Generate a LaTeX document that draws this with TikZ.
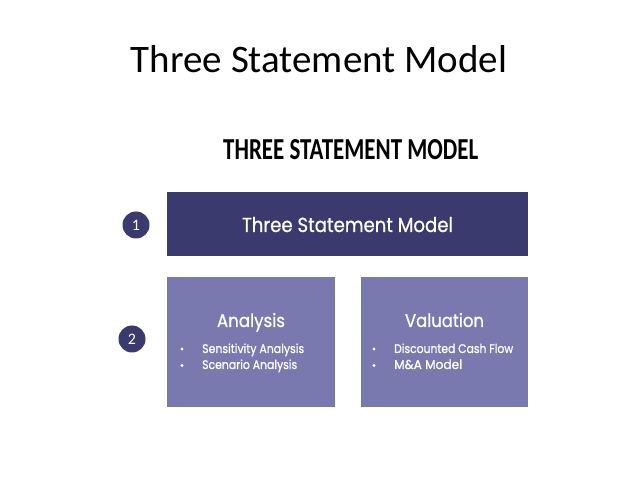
\documentclass[tikz,border=0pt]{standalone}
\usepackage{fontspec}
\setmainfont{Carlito}
\newfontfamily\boxfont{Poppins}[FakeBold=0.9]
\definecolor{navy}{RGB}{59,58,110}
\definecolor{lav}{RGB}{122,121,175}
\tikzset{
  panel/.style={fill=#1, draw=none, inner sep=0pt, anchor=north west},
  txt/.style={inner sep=0pt, text=white},
  dot/.style={circle, fill=white, inner sep=0pt, minimum size=3.2pt},
  num/.style={circle, fill=navy, text=white, inner sep=0pt, minimum size=27pt, font=\fontsize{16}{18}\selectfont},
}
\begin{document}
\begin{tikzpicture}[x=1pt,y=-1pt]
\useasboundingbox (0,0) rectangle (638,478);
\fill[white] (0,0) rectangle (638,478);
\node[inner sep=0pt, anchor=base] (title) at (319,73) {\resizebox{376pt}{!}{\fontsize{40}{48}\selectfont Three Statement Model}};
\node[inner sep=0pt, anchor=base west] (sub) at (223,160) {\resizebox{255pt}{20pt}{\bfseries THREE STATEMENT MODEL}};
\node[panel=navy, minimum width=361pt, minimum height=64pt] (top) at (167,192) {};
\node[panel=lav, minimum width=168pt, minimum height=130pt] (ana) at (167,277) {};
\node[panel=lav, minimum width=167pt, minimum height=130pt] (val) at (361,277) {};
\node[txt, anchor=base] (toptxt) at (347.5,232) {\resizebox{211pt}{15pt}{\boxfont Three Statement Model}};
\node[txt, anchor=base] (anah) at (251,327) {\resizebox{68pt}{14pt}{\boxfont Analysis}};
\node[txt, anchor=base] (valh) at (444.5,327) {\resizebox{79pt}{14pt}{\boxfont Valuation}};
\node[dot] (b1) at (182,349) {};
\node[dot] (b2) at (182,365.5) {};
\node[dot] (b3) at (374,349) {};
\node[dot] (b4) at (374,365.5) {};
\node[txt, anchor=base west] (t1) at (202,353) {\resizebox{102pt}{9.5pt}{\boxfont Sensitivity Analysis}};
\node[txt, anchor=base west] (t2) at (202,369) {\resizebox{95pt}{9.5pt}{\boxfont Scenario Analysis}};
\node[txt, anchor=base west] (t3) at (394,353) {\resizebox{119pt}{9.5pt}{\boxfont Discounted Cash Flow}};
\node[txt, anchor=base west] (t4) at (394,369) {\resizebox{68pt}{9.5pt}{\boxfont M\&A Model}};
\node[num] (c1) at (136,225) {1};
\node[num] (c2) at (132,339) {2};
\end{tikzpicture}
\end{document}
